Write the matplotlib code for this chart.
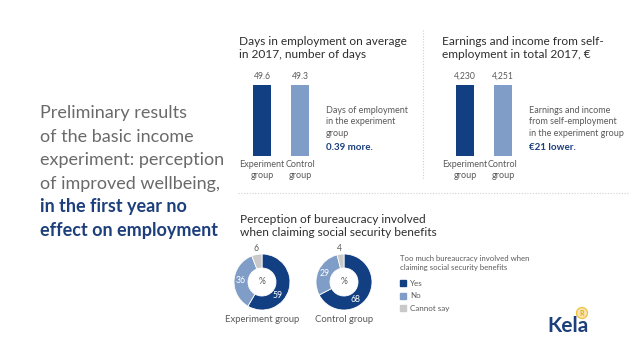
import math
import matplotlib.pyplot as plt
from matplotlib.patches import Circle, Rectangle
from matplotlib.lines import Line2D
from matplotlib.transforms import IdentityTransform

plt.rcParams['font.family'] = ['Lato', 'DejaVu Sans']

DARK = '#123f82'
LIGHT = '#7f9dc7'
GREY = '#c9c9c9'
TXT = '#5a5a5a'

# data
groups = ['Experiment\ngroup', 'Control\ngroup']
days = [49.6, 49.3]
days_lbl = ['49.6', '49.3']
earnings = [4230, 4251]
earn_lbl = ['4,230', '4,251']
pie_cats = ['Yes', 'No', 'Cannot say']
pie_exp = [59, 36, 6]
pie_ctl = [68, 29, 4]

W, H = 638, 359
fig = plt.figure(figsize=(W / 100, H / 100), dpi=100)
fig.patch.set_facecolor('white')


def fx(x):
    return x / W


def fy(y):
    return 1 - y / H


def px_axes(x0, y0, x1, y1):
    return fig.add_axes([fx(x0), fy(y1), fx(x1 - x0), (y1 - y0) / H])


# left headline
lines = ['Preliminary results', 'of the basic income', 'experiment: perception',
         'of improved wellbeing,']
for i, t in enumerate(lines):
    fig.text(fx(40), fy(113 + i * 23.5), t, fontsize=13, color='#6a6a6a',
             va='center', ha='left')
for i, t in enumerate(['in the first year no', 'effect on employment']):
    fig.text(fx(40), fy(207 + i * 23.5), t, fontsize=13, color='#1d3f7c',
             va='center', ha='left', fontweight='bold')

# separators
fig.add_artist(Line2D([fx(423), fx(423)], [fy(30), fy(180)], color='#cfcfcf',
                      lw=0.8, ls=(0, (1, 1.5))))
fig.add_artist(Line2D([fx(238), fx(628)], [fy(193), fy(193)], color='#cfcfcf',
                      lw=0.8, ls=(0, (1, 1.5))))


def bar_panel(x_left, title, vals, labels, note, note_bold):
    fig.text(fx(x_left - 1), fy(48), title, fontsize=8.6, color='#2e2e2e',
             va='center', ha='left', linespacing=1.2)
    ax = px_axes(x_left + 3, 85, x_left + 79, 156)
    ax.bar([0, 1], vals, width=0.47, color=[DARK, LIGHT])
    ax.set_xlim(-0.5, 1.5)
    ax.set_ylim(0, max(vals))
    ax.axis('off')
    for i, (v, l) in enumerate(zip(vals, labels)):
        ax.annotate(l, (i, v), xytext=(0, 3), textcoords='offset points',
                    ha='center', va='bottom', fontsize=6.2, color=TXT)
        ax.annotate(groups[i], (i, 0), xytext=(0, -3), textcoords='offset points',
                    ha='center', va='top', fontsize=6.5, color=TXT,
                    linespacing=1.3)
    fig.text(fx(x_left + 86), fy(122), note, fontsize=6.5, color=TXT,
             va='center', ha='left', linespacing=1.3)
    fig.text(fx(x_left + 86), fy(147), note_bold, fontsize=7, color='#1d3f7c',
             va='center', ha='left', fontweight='bold')


bar_panel(240, 'Days in employment on average\nin 2017, number of days',
          days, days_lbl, 'Days of employment\nin the experiment\ngroup', '0.39 more.')
bar_panel(443, 'Earnings and income from self-\nemployment in total 2017, \u20ac',
          earnings, earn_lbl,
          'Earnings and income\nfrom self-employment\nin the experiment group',
          '\u20ac21 lower.')

# donuts
fig.text(fx(240), fy(226), 'Perception of bureaucracy involved\nwhen claiming social security benefits',
         fontsize=8.6, color='#2e2e2e', va='center', ha='left', linespacing=1.2)


def donut(cx, cy, vals, name):
    r = 28
    ax = px_axes(cx - r, cy - r, cx + r, cy + r)
    ax.pie(vals, colors=[DARK, LIGHT, GREY], startangle=90, counterclock=False,
           radius=1, wedgeprops=dict(width=0.5, edgecolor='white', linewidth=0.6))
    ax.set_xlim(-1, 1)
    ax.set_ylim(-1, 1)
    ax.text(0, 0, '%', ha='center', va='center', fontsize=6.2, color=TXT)
    tot = sum(vals)
    cum = 0
    for i, v in enumerate(vals):
        mid = 90 - (cum + v / 2) * 360 / tot
        cum += v
        if i == 0:
            mid -= 25
        a = math.radians(mid)
        if i == 2:
            ax.text(1.22 * math.cos(a), 1.22 * math.sin(a), str(v), ha='center',
                    va='center', fontsize=6.2, color=TXT, clip_on=False)
        else:
            ax.text(0.75 * math.cos(a), 0.75 * math.sin(a), str(v), ha='center',
                    va='center', fontsize=6.2, color='white')
    fig.text(fx(cx), fy(320), name, ha='center', va='center', fontsize=6.8,
             color=TXT)


donut(262, 282, pie_exp, 'Experiment group')
donut(344, 282, pie_ctl, 'Control group')

fig.text(fx(400), fy(263), 'Too much bureaucracy involved when\nclaiming social security benefits',
         fontsize=5.6, color=TXT, va='center', ha='left', linespacing=1.4)
for i, (c, col) in enumerate(zip(pie_cats, [DARK, LIGHT, GREY])):
    y = 283 + i * 12.5
    fig.add_artist(Rectangle((fx(400), fy(y + 3)), fx(6), 6 / H, color=col))
    fig.text(fx(410), fy(y), c, fontsize=5.8, color=TXT, va='center', ha='left')

# logo
fig.text(fx(547), fy(326), 'Kela', fontsize=15, color='#1d3f7c',
         fontweight='bold', va='center', ha='left')
fig.add_artist(Circle((582, H - 313), 5.5, transform=IdentityTransform(),
                      facecolor='#fbe6b0', edgecolor='#f0c040', lw=0.9))
fig.text(fx(582), fy(313), 'R', fontsize=5, color='#e0a820', ha='center',
         va='center', fontweight='bold')

fig.savefig('out.png', dpi=100)
